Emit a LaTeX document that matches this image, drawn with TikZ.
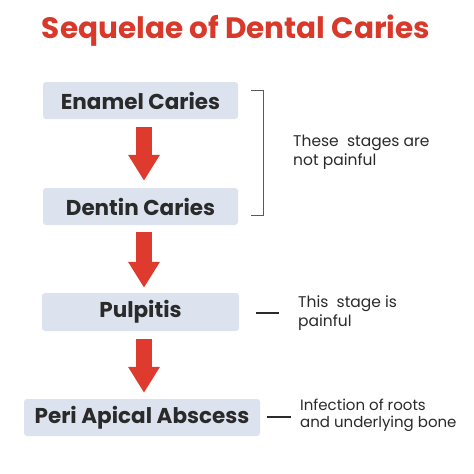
\documentclass[tikz,border=0pt]{standalone}
\usepackage{fontspec}
\setmainfont{Poppins}
\usetikzlibrary{arrows.meta,calc}
\definecolor{titlered}{HTML}{D8392B}
\definecolor{arrowred}{HTML}{DE3A2D}
\definecolor{boxfill}{HTML}{DCE3EE}
\definecolor{boxtext}{HTML}{2A2A2A}
\definecolor{bracketgray}{HTML}{5A5A5A}
\tikzset{
  stagebox/.style={fill=boxfill, rounded corners=3pt, inner sep=0pt, text=boxtext,
    font=\fontsize{21.5}{24}\selectfont\bfseries},
  bigarrow/.style={draw=arrowred, line width=16pt, -{Triangle[width=30pt,length=26pt]}, arrowred},
  note/.style={anchor=west, align=left, text=boxtext, inner sep=0pt,
    font=\fontsize{15.5}{19}\selectfont},
  tick/.style={draw=boxtext, line width=1.3pt},
  brace/.style={draw=bracketgray, line width=1pt}
}
\begin{document}
\begin{tikzpicture}[x=1pt,y=-1pt]
\useasboundingbox (0,0) rectangle (474,474);
\fill[white] (0,0) rectangle (474,474);
\node[text=titlered, font=\fontsize{29.5}{32}\selectfont\bfseries] (title) at (236,31) {Sequelae of Dental Caries};

\node[stagebox, minimum width=195pt, minimum height=37pt] (enamel) at (140.5,100.5) {Enamel Caries};
\node[stagebox, minimum width=195pt, minimum height=37pt] (dentin) at (140.5,206.5) {Dentin Caries};
\node[stagebox, minimum width=197pt, minimum height=38pt] (pulp) at (140.5,312) {Pulpitis};
\node[stagebox, minimum width=236pt, minimum height=37pt] (peri) at (142,417.5) {Peri Apical Abscess};

\coordinate (ax) at (144,0);
\draw[bigarrow, shorten <=8pt, shorten >=7pt] (enamel.south -| ax) -- (dentin.north -| ax);
\draw[bigarrow, shorten <=7pt, shorten >=5pt] (dentin.south -| ax) -- (pulp.north -| ax);
\draw[bigarrow, shorten <=8pt, shorten >=6pt] (pulp.south -| ax) -- (peri.north -| ax);

\coordinate (b1) at (251,90);
\coordinate (b2) at (263,90);
\coordinate (b3) at (263,215);
\coordinate (b4) at (251,215);
\draw[brace] (b1) -- (b2) -- (b3) -- (b4);

\node[note] (n1) at (293,152) {These~ stages are\\not painful};

\coordinate (t1a) at (256,313);
\coordinate (t1b) at (279,313);
\draw[tick] (t1a) -- (t1b);
\node[note] (n2) at (298,313) {This~ stage is\\painful};

\coordinate (t2a) at (267,417);
\coordinate (t2b) at (291,417);
\draw[tick] (t2a) -- (t2b);
\node[note, font=\fontsize{15}{17}\selectfont] (n3) at (300,415) {Infection of roots\\and underlying bone};
\end{tikzpicture}
\end{document}
